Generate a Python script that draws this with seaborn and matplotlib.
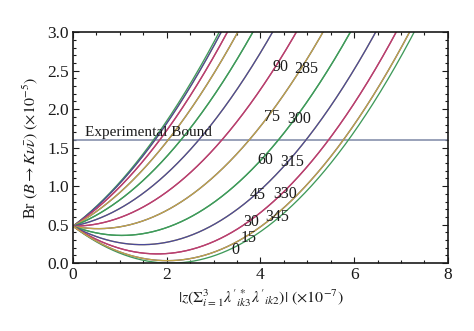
import numpy as np
import pandas as pd
import matplotlib
matplotlib.use("Agg")
import matplotlib.pyplot as plt
from matplotlib.ticker import MultipleLocator
import seaborn as sns

# Phase angles (degrees) of the new-physics coupling, one curve each
angles = [0, 15, 30, 45, 60, 75, 90, 105, 120, 135, 150, 165,
          180, 195, 210, 225, 240, 255, 270, 285, 300, 315, 330, 345]

# Standard-model branching ratio at z = 0 (x 10^-5) and the coupling
# magnitude at which the in-phase (0 deg) curve touches zero (x 10^-7)
br_sm = 0.48
z_zero = 2.08

# Experimental upper bound on Br(B -> K nu nubar) (x 10^-5)
exp_bound = 1.6

# Curve labels: (text, z, Br)
curve_labels = [("90", 4.42, 2.55), ("285", 4.98, 2.52),
                ("75", 4.25, 1.90), ("300", 4.82, 1.87),
                ("60", 4.10, 1.34), ("315", 4.68, 1.31),
                ("45", 3.94, 0.88), ("330", 4.52, 0.90),
                ("30", 3.81, 0.53), ("345", 4.36, 0.60),
                ("15", 3.74, 0.33), ("0", 3.46, 0.17)]

x_ticks = [0, 2, 4, 6, 8]
y_ticks = [0.0, 0.5, 1.0, 1.5, 2.0, 2.5, 3.0]

# Br = Br_SM * |1 - (z / z0) e^{i theta}|^2
z = np.linspace(0, 8, 801)
frames = []
for a in angles:
    t = np.deg2rad(a)
    u = z / z_zero
    br = br_sm * (1 - 2 * u * np.cos(t) + u ** 2)
    frames.append(pd.DataFrame({"z": z, "br": br, "angle": a}))
df = pd.concat(frames, ignore_index=True)

cycle = ["#3f9a5a", "#4a4a9a", "#b8406e", "#c2a545"]
palette = {a: cycle[i % 4] for i, a in enumerate(angles)}

sns.set_theme(style="ticks")
plt.rcParams["font.family"] = ["Liberation Serif", "DejaVu Serif"]
plt.rcParams["mathtext.fontset"] = "stix"

fig = plt.figure(figsize=(4.74, 3.31), dpi=100)
ax = fig.add_axes([0.154, 0.205, 0.791, 0.698])

sns.lineplot(data=df, x="z", y="br", hue="angle", palette=palette,
             hue_order=angles, legend=False, sort=False, linewidth=0.95,
             ax=ax)

ax.axhline(exp_bound, color="#7d88a6", lw=1.1, zorder=1)
ax.text(0.26, exp_bound + 0.01, "Experimental Bound", fontsize=11,
        color="#1a1a1a", va="bottom", ha="left")

for txt, xz, yb in curve_labels:
    ax.text(xz, yb, txt, fontsize=11.5, color="#1a1a1a",
            ha="center", va="center")

ax.set_xlim(0, 8)
ax.set_ylim(0, 3)
ax.set_xticks(x_ticks)
ax.set_yticks(y_ticks)
ax.set_xticklabels([str(v) for v in x_ticks])
ax.set_yticklabels([f"{v:.1f}" for v in y_ticks])
ax.xaxis.set_minor_locator(MultipleLocator(0.5))
ax.yaxis.set_minor_locator(MultipleLocator(0.1))
ax.tick_params(which="both", direction="in", top=True, right=True,
               labelsize=12.5, colors="#1a1a1a", width=0.8)
ax.tick_params(which="major", length=4.5, pad=3)
ax.tick_params(which="minor", length=2.5)
for s in ax.spines.values():
    s.set_linewidth(1.2)
    s.set_color("#1a1a1a")
    s.set_visible(True)

ax.set_xlabel(r"$|z(\Sigma_{i=1}^{3}\lambda'^{\,*}_{ik3}\lambda'_{ik2})|$ $(\times10^{-7})$",
              fontsize=11.5, color="#1a1a1a", labelpad=3)
ax.set_ylabel(r"Br $(B\rightarrow K\nu\bar{\nu})$ $(\times10^{-5})$",
              fontsize=11.5, color="#1a1a1a", labelpad=5)

fig.savefig("out.png", dpi=100)
